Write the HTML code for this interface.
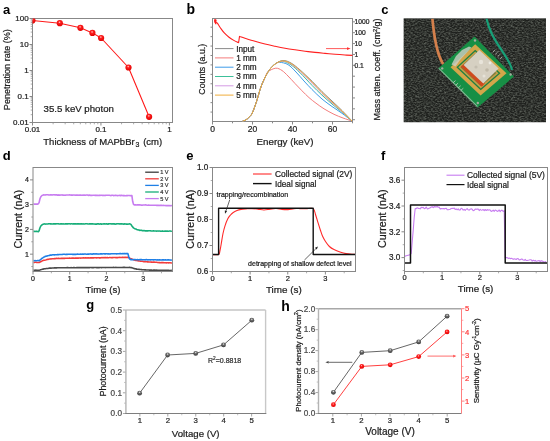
<!DOCTYPE html><html><head><meta charset="utf-8"><style>html,body{margin:0;padding:0;background:#fff;}svg{display:block;will-change:transform;}</style></head><body>
<svg width="550" height="441" viewBox="0 0 550 441" font-family='"Liberation Sans", sans-serif'>
<defs>
<radialGradient id="gr" cx="0.45" cy="0.35" r="0.65"><stop offset="0" stop-color="#ffd0d0"/><stop offset="0.3" stop-color="#ff2020"/><stop offset="1" stop-color="#e00000"/></radialGradient>
<radialGradient id="gk" cx="0.5" cy="0.32" r="0.68"><stop offset="0" stop-color="#e8e8e8"/><stop offset="0.35" stop-color="#6a6a6a"/><stop offset="1" stop-color="#3a3a3a"/></radialGradient>
<clipPath id="ca"><rect x="32.5" y="18.5" width="140" height="104"/></clipPath>
<filter id="noise" x="0" y="0" width="1" height="1" color-interpolation-filters="sRGB"><feTurbulence type="fractalNoise" baseFrequency="0.45 0.8" numOctaves="2" seed="7" result="n"/><feColorMatrix type="matrix" values="0 0 0 0 0.38  0 0 0 0 0.40  0 0 0 0 0.37  2.0 0 0 0 -0.72" in="n" result="m"/><feComposite in="m" in2="SourceGraphic" operator="in"/></filter>
</defs>
<rect width="550" height="441" fill="#fff"/>
<text x="3" y="13.6" font-size="13" text-anchor="start" font-weight="bold" fill="#000">a</text>
<line x1="29.5" y1="18.5" x2="32.5" y2="18.5" stroke="#888888" stroke-width="1"/>
<line x1="30.7" y1="36.67" x2="32.5" y2="36.67" stroke="#888888" stroke-width="0.7"/>
<line x1="30.7" y1="32.09" x2="32.5" y2="32.09" stroke="#888888" stroke-width="0.7"/>
<line x1="30.7" y1="28.85" x2="32.5" y2="28.85" stroke="#888888" stroke-width="0.7"/>
<line x1="30.7" y1="26.33" x2="32.5" y2="26.33" stroke="#888888" stroke-width="0.7"/>
<line x1="30.7" y1="24.27" x2="32.5" y2="24.27" stroke="#888888" stroke-width="0.7"/>
<line x1="30.7" y1="22.53" x2="32.5" y2="22.53" stroke="#888888" stroke-width="0.7"/>
<line x1="30.7" y1="21.02" x2="32.5" y2="21.02" stroke="#888888" stroke-width="0.7"/>
<line x1="30.7" y1="19.69" x2="32.5" y2="19.69" stroke="#888888" stroke-width="0.7"/>
<line x1="29.5" y1="44.5" x2="32.5" y2="44.5" stroke="#888888" stroke-width="1"/>
<line x1="30.7" y1="62.67" x2="32.5" y2="62.67" stroke="#888888" stroke-width="0.7"/>
<line x1="30.7" y1="58.09" x2="32.5" y2="58.09" stroke="#888888" stroke-width="0.7"/>
<line x1="30.7" y1="54.85" x2="32.5" y2="54.85" stroke="#888888" stroke-width="0.7"/>
<line x1="30.7" y1="52.33" x2="32.5" y2="52.33" stroke="#888888" stroke-width="0.7"/>
<line x1="30.7" y1="50.27" x2="32.5" y2="50.27" stroke="#888888" stroke-width="0.7"/>
<line x1="30.7" y1="48.53" x2="32.5" y2="48.53" stroke="#888888" stroke-width="0.7"/>
<line x1="30.7" y1="47.02" x2="32.5" y2="47.02" stroke="#888888" stroke-width="0.7"/>
<line x1="30.7" y1="45.69" x2="32.5" y2="45.69" stroke="#888888" stroke-width="0.7"/>
<line x1="29.5" y1="70.5" x2="32.5" y2="70.5" stroke="#888888" stroke-width="1"/>
<line x1="30.7" y1="88.67" x2="32.5" y2="88.67" stroke="#888888" stroke-width="0.7"/>
<line x1="30.7" y1="84.09" x2="32.5" y2="84.09" stroke="#888888" stroke-width="0.7"/>
<line x1="30.7" y1="80.85" x2="32.5" y2="80.85" stroke="#888888" stroke-width="0.7"/>
<line x1="30.7" y1="78.33" x2="32.5" y2="78.33" stroke="#888888" stroke-width="0.7"/>
<line x1="30.7" y1="76.27" x2="32.5" y2="76.27" stroke="#888888" stroke-width="0.7"/>
<line x1="30.7" y1="74.53" x2="32.5" y2="74.53" stroke="#888888" stroke-width="0.7"/>
<line x1="30.7" y1="73.02" x2="32.5" y2="73.02" stroke="#888888" stroke-width="0.7"/>
<line x1="30.7" y1="71.69" x2="32.5" y2="71.69" stroke="#888888" stroke-width="0.7"/>
<line x1="29.5" y1="96.5" x2="32.5" y2="96.5" stroke="#888888" stroke-width="1"/>
<line x1="30.7" y1="114.67" x2="32.5" y2="114.67" stroke="#888888" stroke-width="0.7"/>
<line x1="30.7" y1="110.09" x2="32.5" y2="110.09" stroke="#888888" stroke-width="0.7"/>
<line x1="30.7" y1="106.85" x2="32.5" y2="106.85" stroke="#888888" stroke-width="0.7"/>
<line x1="30.7" y1="104.33" x2="32.5" y2="104.33" stroke="#888888" stroke-width="0.7"/>
<line x1="30.7" y1="102.27" x2="32.5" y2="102.27" stroke="#888888" stroke-width="0.7"/>
<line x1="30.7" y1="100.53" x2="32.5" y2="100.53" stroke="#888888" stroke-width="0.7"/>
<line x1="30.7" y1="99.02" x2="32.5" y2="99.02" stroke="#888888" stroke-width="0.7"/>
<line x1="30.7" y1="97.69" x2="32.5" y2="97.69" stroke="#888888" stroke-width="0.7"/>
<line x1="29.5" y1="122.5" x2="32.5" y2="122.5" stroke="#888888" stroke-width="1"/>
<text x="28.6" y="21.3" font-size="8" text-anchor="end" font-weight="normal" fill="#1c1c1c" stroke="#1c1c1c" stroke-width="0.22">100</text>
<text x="28.6" y="47.3" font-size="8" text-anchor="end" font-weight="normal" fill="#1c1c1c" stroke="#1c1c1c" stroke-width="0.22">10</text>
<text x="28.6" y="73.3" font-size="8" text-anchor="end" font-weight="normal" fill="#1c1c1c" stroke="#1c1c1c" stroke-width="0.22">1</text>
<text x="28.6" y="99.3" font-size="8" text-anchor="end" font-weight="normal" fill="#1c1c1c" stroke="#1c1c1c" stroke-width="0.22">0.1</text>
<text x="28.6" y="125.3" font-size="8" text-anchor="end" font-weight="normal" fill="#1c1c1c" stroke="#1c1c1c" stroke-width="0.22">0.01</text>
<line x1="32.5" y1="122.5" x2="32.5" y2="125.5" stroke="#888888" stroke-width="1"/>
<line x1="53.11" y1="122.5" x2="53.11" y2="124.3" stroke="#888888" stroke-width="0.7"/>
<line x1="65.16" y1="122.5" x2="65.16" y2="124.3" stroke="#888888" stroke-width="0.7"/>
<line x1="73.71" y1="122.5" x2="73.71" y2="124.3" stroke="#888888" stroke-width="0.7"/>
<line x1="80.34" y1="122.5" x2="80.34" y2="124.3" stroke="#888888" stroke-width="0.7"/>
<line x1="85.76" y1="122.5" x2="85.76" y2="124.3" stroke="#888888" stroke-width="0.7"/>
<line x1="90.35" y1="122.5" x2="90.35" y2="124.3" stroke="#888888" stroke-width="0.7"/>
<line x1="94.32" y1="122.5" x2="94.32" y2="124.3" stroke="#888888" stroke-width="0.7"/>
<line x1="97.82" y1="122.5" x2="97.82" y2="124.3" stroke="#888888" stroke-width="0.7"/>
<line x1="100.95" y1="122.5" x2="100.95" y2="125.5" stroke="#888888" stroke-width="1"/>
<line x1="121.56" y1="122.5" x2="121.56" y2="124.3" stroke="#888888" stroke-width="0.7"/>
<line x1="133.61" y1="122.5" x2="133.61" y2="124.3" stroke="#888888" stroke-width="0.7"/>
<line x1="142.16" y1="122.5" x2="142.16" y2="124.3" stroke="#888888" stroke-width="0.7"/>
<line x1="148.79" y1="122.5" x2="148.79" y2="124.3" stroke="#888888" stroke-width="0.7"/>
<line x1="154.21" y1="122.5" x2="154.21" y2="124.3" stroke="#888888" stroke-width="0.7"/>
<line x1="158.8" y1="122.5" x2="158.8" y2="124.3" stroke="#888888" stroke-width="0.7"/>
<line x1="162.77" y1="122.5" x2="162.77" y2="124.3" stroke="#888888" stroke-width="0.7"/>
<line x1="166.27" y1="122.5" x2="166.27" y2="124.3" stroke="#888888" stroke-width="0.7"/>
<line x1="169.4" y1="122.5" x2="169.4" y2="125.5" stroke="#888888" stroke-width="1"/>
<text x="32.5" y="131.8" font-size="8" text-anchor="middle" font-weight="normal" fill="#1c1c1c" stroke="#1c1c1c" stroke-width="0.22">0.01</text>
<text x="100.95" y="131.8" font-size="8" text-anchor="middle" font-weight="normal" fill="#1c1c1c" stroke="#1c1c1c" stroke-width="0.22">0.1</text>
<text x="169.4" y="131.8" font-size="8" text-anchor="middle" font-weight="normal" fill="#1c1c1c" stroke="#1c1c1c" stroke-width="0.22">1</text>
<rect x="32.5" y="18.5" width="140" height="104" stroke="#888888" stroke-width="1" fill="none"/>
<text x="43.3" y="144.7" font-size="9.5" text-anchor="start" font-weight="normal" fill="#1c1c1c" stroke="#1c1c1c" stroke-width="0.22">Thickness of MAPbBr<tspan font-size="7" dy="2.0" dx="0.8">3</tspan><tspan dy="-2.0" dx="1.2"> (cm)</tspan></text>
<text x="9.7" y="69.65" font-size="9.06" text-anchor="middle" font-weight="normal" fill="#1c1c1c" stroke="#1c1c1c" stroke-width="0.22" transform="rotate(-90 9.7 69.65)">Penetration rate (%)</text>
<text x="43.6" y="111.6" font-size="9.6" text-anchor="start" font-weight="normal" fill="#1c1c1c" stroke="#1c1c1c" stroke-width="0.22" textLength="70.3" lengthAdjust="spacingAndGlyphs">35.5 keV photon</text>
<g clip-path="url(#ca)">
<polyline points="32.4,20.5 59.8,23.2 80.4,27.8 92.4,32.9 101.1,38 128.5,67.5 149.1,116.8" stroke="#ff1a1a" stroke-width="1.1" fill="none" stroke-linejoin="round"/>
<circle cx="32.4" cy="20.5" r="3.1" fill="url(#gr)"/>
<circle cx="59.8" cy="23.2" r="3.1" fill="url(#gr)"/>
<circle cx="80.4" cy="27.8" r="3.1" fill="url(#gr)"/>
<circle cx="92.4" cy="32.9" r="3.1" fill="url(#gr)"/>
<circle cx="101.1" cy="38" r="3.1" fill="url(#gr)"/>
<circle cx="128.5" cy="67.5" r="3.1" fill="url(#gr)"/>
<circle cx="149.1" cy="116.8" r="3.1" fill="url(#gr)"/>
</g>
<text x="186.6" y="13.6" font-size="14" text-anchor="start" font-weight="bold" fill="#000">b</text>
<line x1="210.5" y1="112.07" x2="212.5" y2="112.07" stroke="#888888" stroke-width="1"/>
<line x1="210.5" y1="102.64" x2="212.5" y2="102.64" stroke="#888888" stroke-width="1"/>
<line x1="210.5" y1="93.21" x2="212.5" y2="93.21" stroke="#888888" stroke-width="1"/>
<line x1="210.5" y1="83.78" x2="212.5" y2="83.78" stroke="#888888" stroke-width="1"/>
<line x1="210.5" y1="74.35" x2="212.5" y2="74.35" stroke="#888888" stroke-width="1"/>
<line x1="210.5" y1="64.92" x2="212.5" y2="64.92" stroke="#888888" stroke-width="1"/>
<line x1="210.5" y1="55.49" x2="212.5" y2="55.49" stroke="#888888" stroke-width="1"/>
<line x1="210.5" y1="46.06" x2="212.5" y2="46.06" stroke="#888888" stroke-width="1"/>
<line x1="210.5" y1="36.63" x2="212.5" y2="36.63" stroke="#888888" stroke-width="1"/>
<line x1="210.5" y1="27.2" x2="212.5" y2="27.2" stroke="#888888" stroke-width="1"/>
<line x1="352.5" y1="21.83" x2="355" y2="21.83" stroke="#888888" stroke-width="1"/>
<line x1="352.5" y1="32.7" x2="355" y2="32.7" stroke="#888888" stroke-width="1"/>
<line x1="352.5" y1="43.58" x2="355" y2="43.58" stroke="#888888" stroke-width="1"/>
<line x1="352.5" y1="54.45" x2="355" y2="54.45" stroke="#888888" stroke-width="1"/>
<line x1="352.5" y1="65.33" x2="355" y2="65.33" stroke="#888888" stroke-width="1"/>
<line x1="352.5" y1="76.2" x2="355" y2="76.2" stroke="#888888" stroke-width="1"/>
<line x1="352.5" y1="87.08" x2="355" y2="87.08" stroke="#888888" stroke-width="1"/>
<line x1="352.5" y1="97.95" x2="355" y2="97.95" stroke="#888888" stroke-width="1"/>
<line x1="352.5" y1="108.83" x2="355" y2="108.83" stroke="#888888" stroke-width="1"/>
<line x1="352.5" y1="119.7" x2="355" y2="119.7" stroke="#888888" stroke-width="1"/>
<text x="354.5" y="24.23" font-size="6.7" text-anchor="start" font-weight="normal" fill="#1c1c1c" stroke="#1c1c1c" stroke-width="0.22">1000</text>
<text x="354.5" y="35.1" font-size="6.7" text-anchor="start" font-weight="normal" fill="#1c1c1c" stroke="#1c1c1c" stroke-width="0.22">100</text>
<text x="354.5" y="45.98" font-size="6.7" text-anchor="start" font-weight="normal" fill="#1c1c1c" stroke="#1c1c1c" stroke-width="0.22">10</text>
<text x="354.5" y="56.85" font-size="6.7" text-anchor="start" font-weight="normal" fill="#1c1c1c" stroke="#1c1c1c" stroke-width="0.22">1</text>
<text x="354.5" y="67.73" font-size="6.7" text-anchor="start" font-weight="normal" fill="#1c1c1c" stroke="#1c1c1c" stroke-width="0.22">0.1</text>
<line x1="212.5" y1="121.5" x2="212.5" y2="124.5" stroke="#888888" stroke-width="1"/>
<line x1="232.5" y1="121.5" x2="232.5" y2="123.3" stroke="#888888" stroke-width="1"/>
<line x1="252.5" y1="121.5" x2="252.5" y2="124.5" stroke="#888888" stroke-width="1"/>
<line x1="272.5" y1="121.5" x2="272.5" y2="123.3" stroke="#888888" stroke-width="1"/>
<line x1="292.5" y1="121.5" x2="292.5" y2="124.5" stroke="#888888" stroke-width="1"/>
<line x1="312.5" y1="121.5" x2="312.5" y2="123.3" stroke="#888888" stroke-width="1"/>
<line x1="332.5" y1="121.5" x2="332.5" y2="124.5" stroke="#888888" stroke-width="1"/>
<line x1="352.5" y1="121.5" x2="352.5" y2="123.3" stroke="#888888" stroke-width="1"/>
<text x="212.5" y="132" font-size="8.5" text-anchor="middle" font-weight="normal" fill="#1c1c1c" stroke="#1c1c1c" stroke-width="0.22">0</text>
<text x="252.5" y="132" font-size="8.5" text-anchor="middle" font-weight="normal" fill="#1c1c1c" stroke="#1c1c1c" stroke-width="0.22">20</text>
<text x="292.5" y="132" font-size="8.5" text-anchor="middle" font-weight="normal" fill="#1c1c1c" stroke="#1c1c1c" stroke-width="0.22">40</text>
<text x="332.5" y="132" font-size="8.5" text-anchor="middle" font-weight="normal" fill="#1c1c1c" stroke="#1c1c1c" stroke-width="0.22">60</text>
<rect x="212.5" y="18.5" width="140" height="103" stroke="#888888" stroke-width="1" fill="none"/>
<text x="256.6" y="145.4" font-size="9.75" text-anchor="start" font-weight="normal" fill="#1c1c1c" stroke="#1c1c1c" stroke-width="0.22">Energy (keV)</text>
<text x="205.5" y="69.2" font-size="8.8" text-anchor="middle" font-weight="normal" fill="#1c1c1c" stroke="#1c1c1c" stroke-width="0.22" transform="rotate(-90 205.5 69.2)">Counts (a.u.)</text>
<text x="379.8" y="69.4" font-size="9" text-anchor="middle" font-weight="normal" fill="#1c1c1c" stroke="#1c1c1c" stroke-width="0.22" transform="rotate(-90 379.8 69.4)">Mass atten. coeff. (cm<tspan font-size="5.5" dy="-3.2">2</tspan><tspan dy="3.2">/g)</tspan></text>
<path d="M242.5,121.2 C243.08,120.97 244.92,120.47 246,119.8 C247.08,119.13 247.97,118.3 249,117.2 C250.03,116.1 250.95,115.8 252.2,113.2 C253.45,110.6 255.05,105.95 256.5,101.6 C257.95,97.25 259.43,91.22 260.9,87.1 C262.37,82.98 264.08,79.48 265.3,76.9 C266.52,74.32 266.45,73.05 268.2,71.6 C269.95,70.15 273.5,68.38 275.8,68.2 C278.1,68.02 279.97,69.2 282,70.5 C284.03,71.8 285.83,73.83 288,76 C290.17,78.17 292.67,81.03 295,83.5 C297.33,85.97 299.67,88.45 302,90.8 C304.33,93.15 306.67,95.53 309,97.6 C311.33,99.67 313.5,101.33 316,103.2 C318.5,105.07 321,106.95 324,108.8 C327,110.65 330.83,112.77 334,114.3 C337.17,115.83 340,116.88 343,118 C346,119.12 350.5,120.5 352,121" stroke="#f47c7c" stroke-width="1" fill="none"/>
<path d="M242.5,121.2 C243.08,120.97 244.92,120.47 246,119.8 C247.08,119.13 247.97,118.3 249,117.2 C250.03,116.1 250.95,115.8 252.2,113.2 C253.45,110.6 255.05,105.95 256.5,101.6 C257.95,97.25 259.43,91.22 260.9,87.1 C262.37,82.98 263.85,79.82 265.3,76.9 C266.75,73.98 267.92,71.78 269.6,69.6 C271.28,67.42 273.72,65.02 275.4,63.8 C277.08,62.58 277.6,62.17 279.7,62.3 C281.8,62.43 285.28,62.98 288,64.6 C290.72,66.22 293.33,69.27 296,72 C298.67,74.73 301.33,78.08 304,81 C306.67,83.92 309,86.5 312,89.5 C315,92.5 318.67,96.17 322,99 C325.33,101.83 328.67,104.12 332,106.5 C335.33,108.88 338.67,110.88 342,113.3 C345.33,115.72 350.33,119.72 352,121" stroke="#3d9be9" stroke-width="1" fill="none"/>
<path d="M242.5,121.2 C243.08,120.97 244.92,120.47 246,119.8 C247.08,119.13 247.97,118.3 249,117.2 C250.03,116.1 250.95,115.8 252.2,113.2 C253.45,110.6 255.05,105.95 256.5,101.6 C257.95,97.25 259.43,91.22 260.9,87.1 C262.37,82.98 263.85,79.82 265.3,76.9 C266.75,73.98 267.92,71.78 269.6,69.6 C271.28,67.42 273.25,65.18 275.4,63.8 C277.55,62.42 279.9,61.12 282.5,61.3 C285.1,61.48 288.08,63 291,64.9 C293.92,66.8 296.5,69.28 300,72.7 C303.5,76.12 308.33,81.65 312,85.4 C315.67,89.15 318.67,92.1 322,95.2 C325.33,98.3 328.67,101.17 332,104 C335.33,106.83 338.67,109.37 342,112.2 C345.33,115.03 350.33,119.53 352,121" stroke="#3cc09a" stroke-width="1" fill="none"/>
<path d="M242.5,121.2 C243.08,120.97 244.92,120.47 246,119.8 C247.08,119.13 247.97,118.3 249,117.2 C250.03,116.1 250.95,115.8 252.2,113.2 C253.45,110.6 255.05,105.95 256.5,101.6 C257.95,97.25 259.43,91.22 260.9,87.1 C262.37,82.98 263.85,79.82 265.3,76.9 C266.75,73.98 267.92,71.78 269.6,69.6 C271.28,67.42 273.17,65.22 275.4,63.8 C277.63,62.38 280.4,61.05 283,61.1 C285.6,61.15 288.17,62.37 291,64.1 C293.83,65.83 296.5,68.32 300,71.5 C303.5,74.68 308.33,79.53 312,83.2 C315.67,86.87 318.67,90.22 322,93.5 C325.33,96.78 328.67,99.88 332,102.9 C335.33,105.92 338.67,108.58 342,111.6 C345.33,114.62 350.33,119.43 352,121" stroke="#d49be4" stroke-width="1" fill="none"/>
<path d="M242.5,121.2 C243.08,120.97 244.92,120.47 246,119.8 C247.08,119.13 247.97,118.3 249,117.2 C250.03,116.1 250.95,115.8 252.2,113.2 C253.45,110.6 255.05,105.95 256.5,101.6 C257.95,97.25 259.43,91.22 260.9,87.1 C262.37,82.98 263.85,79.82 265.3,76.9 C266.75,73.98 267.92,71.78 269.6,69.6 C271.28,67.42 273.17,65.32 275.4,63.8 C277.63,62.28 280.4,60.63 283,60.5 C285.6,60.37 288.17,61.43 291,63 C293.83,64.57 296.5,66.87 300,69.9 C303.5,72.93 308.33,77.58 312,81.2 C315.67,84.82 318.67,88.3 322,91.6 C325.33,94.9 328.67,97.85 332,101 C335.33,104.15 338.67,107.17 342,110.5 C345.33,113.83 350.33,119.25 352,121" stroke="#8a8a8a" stroke-width="1" fill="none"/>
<path d="M242.5,121.2 C243.08,120.97 244.92,120.47 246,119.8 C247.08,119.13 247.97,118.3 249,117.2 C250.03,116.1 250.95,115.8 252.2,113.2 C253.45,110.6 255.05,105.95 256.5,101.6 C257.95,97.25 259.43,91.22 260.9,87.1 C262.37,82.98 263.85,79.82 265.3,76.9 C266.75,73.98 267.92,71.78 269.6,69.6 C271.28,67.42 273.17,65.25 275.4,63.8 C277.63,62.35 280.4,60.93 283,60.9 C285.6,60.87 288.17,61.98 291,63.6 C293.83,65.22 296.5,67.52 300,70.6 C303.5,73.68 308.33,78.43 312,82.1 C315.67,85.77 318.67,89.27 322,92.6 C325.33,95.93 328.67,99 332,102.1 C335.33,105.2 338.67,108.05 342,111.2 C345.33,114.35 350.33,119.37 352,121" stroke="#f0ae3c" stroke-width="1" fill="none"/>
<path d="M214.8,19.8 C214.93,20.27 215.22,22.08 215.6,22.6 C215.98,23.12 216.32,22.05 217.1,22.9 C217.88,23.75 219.1,26.03 220.3,27.7 C221.5,29.37 222.85,31.32 224.3,32.9 C225.75,34.48 227.42,35.95 229,37.2 C230.58,38.45 232.33,39.53 233.8,40.4 C235.27,41.27 237.13,42.07 237.8,42.4 L238.6,42.6 L239.5,36.4  C240.42,36.7 242.42,37.38 245,38.2 C247.58,39.02 251.67,40.33 255,41.3 C258.33,42.27 261.67,43.18 265,44 C268.33,44.82 271.67,45.5 275,46.2 C278.33,46.9 281.67,47.6 285,48.2 C288.33,48.8 291.67,49.3 295,49.8 C298.33,50.3 301.67,50.77 305,51.2 C308.33,51.63 311.67,52.03 315,52.4 C318.33,52.77 321.67,53.08 325,53.4 C328.33,53.72 331.67,54.03 335,54.3 C338.33,54.57 342.1,54.82 345,55 C347.9,55.18 351.17,55.33 352.4,55.4" stroke="#ff2020" stroke-width="1.1" fill="none"/>
<path d="M214.6,19.4 L216.2,19.8 L215.8,24.2 L214.6,22.0 Z" stroke="#ff2020" stroke-width="0.8" fill="#ff2020"/>
<line x1="326" y1="48.6" x2="347" y2="48.6" stroke="#ff3030" stroke-width="0.8"/>
<polygon points="350.6,48.6 347,50 347,47.2" fill="#ff3030"/>
<line x1="215" y1="48.6" x2="233.5" y2="48.6" stroke="#8a8a8a" stroke-width="1"/>
<text x="236.2" y="51.5" font-size="8.2" text-anchor="start" font-weight="normal" fill="#1c1c1c" stroke="#1c1c1c" stroke-width="0.22">Input</text>
<line x1="215" y1="57.9" x2="233.5" y2="57.9" stroke="#f47c7c" stroke-width="1"/>
<text x="236.2" y="60.8" font-size="8.2" text-anchor="start" font-weight="normal" fill="#1c1c1c" stroke="#1c1c1c" stroke-width="0.22">1 mm</text>
<line x1="215" y1="67.2" x2="233.5" y2="67.2" stroke="#3d9be9" stroke-width="1"/>
<text x="236.2" y="70.1" font-size="8.2" text-anchor="start" font-weight="normal" fill="#1c1c1c" stroke="#1c1c1c" stroke-width="0.22">2 mm</text>
<line x1="215" y1="76.5" x2="233.5" y2="76.5" stroke="#3cc09a" stroke-width="1"/>
<text x="236.2" y="79.4" font-size="8.2" text-anchor="start" font-weight="normal" fill="#1c1c1c" stroke="#1c1c1c" stroke-width="0.22">3 mm</text>
<line x1="215" y1="85.8" x2="233.5" y2="85.8" stroke="#d49be4" stroke-width="1"/>
<text x="236.2" y="88.7" font-size="8.2" text-anchor="start" font-weight="normal" fill="#1c1c1c" stroke="#1c1c1c" stroke-width="0.22">4 mm</text>
<line x1="215" y1="95.1" x2="233.5" y2="95.1" stroke="#f0ae3c" stroke-width="1"/>
<text x="236.2" y="98" font-size="8.2" text-anchor="start" font-weight="normal" fill="#1c1c1c" stroke="#1c1c1c" stroke-width="0.22">5 mm</text>
<text x="381.3" y="13.6" font-size="13" text-anchor="start" font-weight="bold" fill="#000">c</text>
<rect x="403.7" y="18.4" width="142.3" height="103.8" fill="#1f211e"/>
<rect x="403.7" y="18.4" width="142.3" height="103.8" fill="#000" filter="url(#noise)"/>
<polygon points="474.5,36.5 514,76.5 477.6,107.4 438.2,68.6" fill="#178f45"/>
<polygon points="438.2,68.6 477.6,107.4 477.2,105.6 439.4,68.2" fill="#c8d8c8" opacity="0.6"/>
<polygon points="475.2,44.2 506.5,73.3 480.6,95.5 450.5,67.2" fill="#d2a64a"/>
<polygon points="475.2,49.66 500.5,73.18 480.72,90.13 456.35,67.21" fill="#1f8040"/>
<polygon points="475.2,51.44 498.54,73.14 480.76,88.38 458.26,67.22" fill="#c4a04a"/>
<polygon points="475.2,53.49 496.29,73.09 480.81,86.36 460.45,67.22" fill="#7f7a3a"/>
<polygon points="460.8,66.6 464.6,63.8 484.8,83.6 481.8,86.8" fill="#cf4a1e"/>
<polygon points="479.3,50 498.6,68.4 483.3,83.6 463.6,65" fill="#d6d0c2"/>
<circle cx="481" cy="62" r="2.2" fill="#e8e4da"/><circle cx="487" cy="70" r="1.8" fill="#bfb8a8"/><circle cx="476" cy="67" r="1.6" fill="#c4beb0"/><circle cx="490" cy="63" r="1.4" fill="#eceae2"/><circle cx="484" cy="76" r="1.5" fill="#e6e2d8"/>
<polygon points="451.5,64.5 456,56 462,50 469,46.5 471.5,47.5 466,53.5 460,60 455.5,66.5" fill="#d0cec6" opacity="0.8"/>
<line x1="493" y1="52" x2="495.2" y2="50" stroke="#c0c2bc" stroke-width="0.8"/>
<line x1="495.3" y1="54.3" x2="497.5" y2="52.3" stroke="#c0c2bc" stroke-width="0.8"/>
<line x1="497.6" y1="56.6" x2="499.8" y2="54.6" stroke="#c0c2bc" stroke-width="0.8"/>
<line x1="499.9" y1="58.9" x2="502.1" y2="56.9" stroke="#c0c2bc" stroke-width="0.8"/>
<line x1="455.5" y1="80.6" x2="453.1" y2="82.7" stroke="#c8cac4" stroke-width="0.8"/>
<line x1="458.1" y1="83.15" x2="455.7" y2="85.25" stroke="#c8cac4" stroke-width="0.8"/>
<line x1="460.7" y1="85.7" x2="458.3" y2="87.8" stroke="#c8cac4" stroke-width="0.8"/>
<line x1="463.3" y1="88.25" x2="460.9" y2="90.35" stroke="#c8cac4" stroke-width="0.8"/>
<circle cx="475.0" cy="40.5" r="1.2" fill="#a8aaa0"/>
<circle cx="510.6" cy="74.5" r="1.2" fill="#a8aaa0"/>
<circle cx="477.8" cy="103.0" r="1.2" fill="#a8aaa0"/>
<circle cx="442.2" cy="68.4" r="1.2" fill="#a8aaa0"/>
<path d="M432.4,18.8 C433.5,30 435.5,44 438,52 C439.5,57 441,61 443.2,64" stroke="#d4804c" stroke-width="2.7" fill="none"/>
<path d="M486.5,18.8 C489,30 495,41 501.5,50 C506,57 509.5,62 511.2,67 L512,70" stroke="#18a078" stroke-width="2.2" fill="none"/>
<text x="2.7" y="159.7" font-size="13" text-anchor="start" font-weight="bold" fill="#000">d</text>
<line x1="30" y1="254.16" x2="33" y2="254.16" stroke="#888888" stroke-width="1"/>
<text x="28.8" y="256.66" font-size="7" text-anchor="end" font-weight="normal" fill="#1c1c1c" stroke="#1c1c1c" stroke-width="0.22">1</text>
<line x1="30" y1="229.4" x2="33" y2="229.4" stroke="#888888" stroke-width="1"/>
<text x="28.8" y="231.9" font-size="7" text-anchor="end" font-weight="normal" fill="#1c1c1c" stroke="#1c1c1c" stroke-width="0.22">2</text>
<line x1="30" y1="204.64" x2="33" y2="204.64" stroke="#888888" stroke-width="1"/>
<text x="28.8" y="207.14" font-size="7" text-anchor="end" font-weight="normal" fill="#1c1c1c" stroke="#1c1c1c" stroke-width="0.22">3</text>
<line x1="30" y1="179.88" x2="33" y2="179.88" stroke="#888888" stroke-width="1"/>
<text x="28.8" y="182.38" font-size="7" text-anchor="end" font-weight="normal" fill="#1c1c1c" stroke="#1c1c1c" stroke-width="0.22">4</text>
<line x1="31.2" y1="266.54" x2="33" y2="266.54" stroke="#888888" stroke-width="0.7"/>
<line x1="31.2" y1="241.78" x2="33" y2="241.78" stroke="#888888" stroke-width="0.7"/>
<line x1="31.2" y1="217.02" x2="33" y2="217.02" stroke="#888888" stroke-width="0.7"/>
<line x1="31.2" y1="192.26" x2="33" y2="192.26" stroke="#888888" stroke-width="0.7"/>
<line x1="33" y1="271.5" x2="33" y2="274.5" stroke="#888888" stroke-width="1"/>
<text x="33" y="280.8" font-size="7" text-anchor="middle" font-weight="normal" fill="#1c1c1c" stroke="#1c1c1c" stroke-width="0.22">0</text>
<line x1="69.71" y1="271.5" x2="69.71" y2="274.5" stroke="#888888" stroke-width="1"/>
<text x="69.71" y="280.8" font-size="7" text-anchor="middle" font-weight="normal" fill="#1c1c1c" stroke="#1c1c1c" stroke-width="0.22">1</text>
<line x1="106.42" y1="271.5" x2="106.42" y2="274.5" stroke="#888888" stroke-width="1"/>
<text x="106.42" y="280.8" font-size="7" text-anchor="middle" font-weight="normal" fill="#1c1c1c" stroke="#1c1c1c" stroke-width="0.22">2</text>
<line x1="143.13" y1="271.5" x2="143.13" y2="274.5" stroke="#888888" stroke-width="1"/>
<text x="143.13" y="280.8" font-size="7" text-anchor="middle" font-weight="normal" fill="#1c1c1c" stroke="#1c1c1c" stroke-width="0.22">3</text>
<line x1="51.36" y1="271.5" x2="51.36" y2="273.3" stroke="#888888" stroke-width="0.7"/>
<line x1="88.07" y1="271.5" x2="88.07" y2="273.3" stroke="#888888" stroke-width="0.7"/>
<line x1="124.78" y1="271.5" x2="124.78" y2="273.3" stroke="#888888" stroke-width="0.7"/>
<line x1="161.49" y1="271.5" x2="161.49" y2="273.3" stroke="#888888" stroke-width="0.7"/>
<text x="103" y="292.5" font-size="9.6" text-anchor="middle" font-weight="normal" fill="#1c1c1c" stroke="#1c1c1c" stroke-width="0.22">Time (s)</text>
<text x="22.4" y="219.15" font-size="10.67" text-anchor="middle" font-weight="normal" fill="#1c1c1c" stroke="#1c1c1c" stroke-width="0.22" transform="rotate(-90 22.4 219.15)">Current (nA)</text>
<polyline points="33.5,270.14 34.3,270.26 35.1,270.24 35.9,270.16 36.7,270.2 37.5,270.19 38.3,270.22 39.1,270.25 39.9,269.98 40.7,269.69 41.5,269.57 42.3,269.29 43.1,269.15 43.9,268.86 44.7,268.79 45.5,268.7 46.3,268.51 47.1,268.52 47.9,268.43 48.7,268.21 49.5,268.14 50.3,268.16 51.1,268.17 51.9,268.04 52.7,267.97 53.5,267.96 54.3,267.87 55.1,267.87 55.9,267.88 56.7,267.86 57.5,267.8 58.3,267.78 59.1,267.76 59.9,267.79 60.7,267.75 61.5,267.69 62.3,267.81 63.1,267.75 63.9,267.76 64.7,267.68 65.5,267.8 66.3,267.77 67.1,267.64 67.9,267.67 68.7,267.73 69.5,267.72 70.3,267.75 71.1,267.66 71.9,267.72 72.7,267.69 73.5,267.63 74.3,267.67 75.1,267.71 75.9,267.7 76.7,267.64 77.5,267.65 78.3,267.56 79.1,267.59 79.9,267.67 80.7,267.61 81.5,267.57 82.3,267.62 83.1,267.64 83.9,267.63 84.7,267.58 85.5,267.59 86.3,267.6 87.1,267.64 87.9,267.59 88.7,267.57 89.5,267.58 90.3,267.5 91.1,267.5 91.9,267.6 92.7,267.64 93.5,267.58 94.3,267.54 95.1,267.5 95.9,267.55 96.7,267.63 97.5,267.59 98.3,267.55 99.1,267.6 99.9,267.49 100.7,267.53 101.5,267.6 102.3,267.54 103.1,267.51 103.9,267.48 104.7,267.52 105.5,267.58 106.3,267.43 107.1,267.55 107.9,267.55 108.7,267.56 109.5,267.53 110.3,267.54 111.1,267.49 111.9,267.49 112.7,267.47 113.5,267.4 114.3,267.53 115.1,267.48 115.9,267.42 116.7,267.46 117.5,267.46 118.3,267.43 119.1,267.43 119.9,267.45 120.7,267.46 121.5,267.46 122.3,267.43 123.1,267.36 123.9,267.39 124.7,267.37 125.5,267.44 126.3,267.48 127.1,267.46 127.9,267.46 128.7,267.46 129.5,267.37 130.3,267.46 131.1,267.64 131.9,267.84 132.7,268.1 133.5,268.33 134.3,268.65 135.1,268.75 135.9,268.89 136.7,269.12 137.5,269.2 138.3,269.26 139.1,269.38 139.9,269.52 140.7,269.54 141.5,269.63 142.3,269.76 143.1,269.77 143.9,269.8 144.7,269.87 145.5,269.84 146.3,269.93 147.1,269.97 147.9,269.96 148.7,269.98 149.5,270.13 150.3,270.09 151.1,270.06 151.9,270.14 152.7,270.19 153.5,270.08 154.3,270.1 155.1,270.13 155.9,270.24 156.7,270.16 157.5,270.26 158.3,270.27 159.1,270.26 159.9,270.22 160.7,270.35 161.5,270.33 162.3,270.29 163.1,270.26 163.9,270.33 164.7,270.3 165.5,270.34 166.3,270.31 167.1,270.37 167.9,270.28 168.7,270.33 169.5,270.45 170.3,270.44 171.1,270.36 171.9,270.45" stroke="#4a4a4a" stroke-width="1.6" fill="none" stroke-linejoin="round"/>
<polyline points="33.5,262.51 34.3,262.51 35.1,262.29 35.9,262.3 36.7,262.48 37.5,262.46 38.3,262.44 39.1,262.35 39.9,262.17 40.7,261.72 41.5,261.31 42.3,260.85 43.1,260.6 43.9,260.32 44.7,260.16 45.5,260.01 46.3,259.81 47.1,259.54 47.9,259.37 48.7,259.2 49.5,259.02 50.3,258.92 51.1,258.93 51.9,258.82 52.7,258.76 53.5,258.82 54.3,258.67 55.1,258.63 55.9,258.5 56.7,258.41 57.5,258.44 58.3,258.36 59.1,258.42 59.9,258.51 60.7,258.4 61.5,258.26 62.3,258.41 63.1,258.36 63.9,258.33 64.7,258.35 65.5,258.3 66.3,258.29 67.1,258.17 67.9,258.3 68.7,258.28 69.5,258.08 70.3,258.2 71.1,258.18 71.9,258.11 72.7,258.11 73.5,258.09 74.3,258.18 75.1,258.07 75.9,258.14 76.7,258.01 77.5,258.13 78.3,258.12 79.1,258.01 79.9,258.02 80.7,258.1 81.5,258.04 82.3,257.97 83.1,257.9 83.9,257.91 84.7,257.99 85.5,257.85 86.3,258.02 87.1,257.86 87.9,258 88.7,257.85 89.5,257.99 90.3,257.92 91.1,257.86 91.9,257.86 92.7,257.88 93.5,257.85 94.3,257.78 95.1,257.74 95.9,257.8 96.7,257.9 97.5,257.81 98.3,257.67 99.1,257.84 99.9,257.81 100.7,257.84 101.5,257.66 102.3,257.78 103.1,257.61 103.9,257.74 104.7,257.64 105.5,257.62 106.3,257.76 107.1,257.57 107.9,257.66 108.7,257.73 109.5,257.57 110.3,257.55 111.1,257.7 111.9,257.58 112.7,257.65 113.5,257.47 114.3,257.54 115.1,257.48 115.9,257.6 116.7,257.44 117.5,257.64 118.3,257.41 119.1,257.57 119.9,257.39 120.7,257.44 121.5,257.56 122.3,257.39 123.1,257.39 123.9,257.5 124.7,257.42 125.5,257.33 126.3,257.54 127.1,257.33 127.9,257.29 128.7,257.59 129.5,258.08 130.3,258.49 131.1,258.69 131.9,259.06 132.7,259.27 133.5,259.63 134.3,259.94 135.1,260.15 135.9,260.38 136.7,260.53 137.5,260.72 138.3,260.83 139.1,260.91 139.9,260.97 140.7,261.19 141.5,261.22 142.3,261.27 143.1,261.44 143.9,261.63 144.7,261.53 145.5,261.71 146.3,261.73 147.1,261.83 147.9,261.8 148.7,262.05 149.5,261.94 150.3,262.07 151.1,262.08 151.9,262.03 152.7,262.2 153.5,262.14 154.3,262.16 155.1,262.2 155.9,262.27 156.7,262.29 157.5,262.46 158.3,262.46 159.1,262.61 159.9,262.63 160.7,262.68 161.5,262.53 162.3,262.61 163.1,262.6 163.9,262.71 164.7,262.75 165.5,262.82 166.3,262.83 167.1,262.75 167.9,262.82 168.7,262.88 169.5,262.78 170.3,262.82 171.1,262.93 171.9,262.89" stroke="#f23c3c" stroke-width="1.6" fill="none" stroke-linejoin="round"/>
<polyline points="33.5,260.62 34.3,260.71 35.1,260.66 35.9,260.73 36.7,260.74 37.5,260.57 38.3,260.55 39.1,260.8 39.9,260.16 40.7,259.32 41.5,258.83 42.3,258.06 43.1,257.65 43.9,257.09 44.7,256.76 45.5,256.29 46.3,256.15 47.1,255.98 47.9,255.67 48.7,255.55 49.5,255.38 50.3,255.07 51.1,255.16 51.9,255.01 52.7,254.84 53.5,254.68 54.3,254.87 55.1,254.69 55.9,254.72 56.7,254.72 57.5,254.63 58.3,254.66 59.1,254.47 59.9,254.57 60.7,254.44 61.5,254.56 62.3,254.52 63.1,254.27 63.9,254.26 64.7,254.27 65.5,254.48 66.3,254.31 67.1,254.35 67.9,254.24 68.7,254.29 69.5,254.24 70.3,254.22 71.1,254.28 71.9,254.27 72.7,254.36 73.5,254.28 74.3,254.34 75.1,254.31 75.9,254.34 76.7,254.24 77.5,254.07 78.3,254.27 79.1,254.3 79.9,254.27 80.7,254.16 81.5,254.19 82.3,254.03 83.1,254.21 83.9,254.12 84.7,254.03 85.5,253.95 86.3,254.18 87.1,254.21 87.9,253.93 88.7,254.14 89.5,254.01 90.3,253.92 91.1,253.96 91.9,254.09 92.7,254.11 93.5,253.86 94.3,254.02 95.1,253.84 95.9,254.03 96.7,253.91 97.5,254.06 98.3,254.08 99.1,253.93 99.9,254.07 100.7,253.85 101.5,253.77 102.3,253.92 103.1,253.74 103.9,253.78 104.7,253.84 105.5,253.89 106.3,253.74 107.1,253.7 107.9,253.94 108.7,253.76 109.5,253.95 110.3,253.92 111.1,253.76 111.9,253.77 112.7,253.78 113.5,253.81 114.3,253.79 115.1,253.77 115.9,253.78 116.7,253.86 117.5,253.72 118.3,253.69 119.1,253.77 119.9,253.62 120.7,253.63 121.5,253.82 122.3,253.67 123.1,253.67 123.9,253.5 124.7,253.62 125.5,253.66 126.3,253.48 127.1,253.65 127.9,253.64 128.7,256.39 129.5,258.84 130.3,259.39 131.1,259.62 131.9,259.57 132.7,259.7 133.5,259.72 134.3,259.51 135.1,259.53 135.9,259.72 136.7,259.82 137.5,259.61 138.3,259.68 139.1,259.73 139.9,259.65 140.7,259.67 141.5,259.66 142.3,259.69 143.1,259.76 143.9,259.68 144.7,259.71 145.5,259.84 146.3,259.62 147.1,259.79 147.9,259.85 148.7,259.73 149.5,259.71 150.3,259.89 151.1,259.73 151.9,259.72 152.7,259.8 153.5,259.89 154.3,259.72 155.1,259.79 155.9,259.8 156.7,259.96 157.5,259.85 158.3,259.98 159.1,259.78 159.9,259.84 160.7,259.94 161.5,260.02 162.3,259.9 163.1,259.84 163.9,259.81 164.7,259.94 165.5,259.85 166.3,260.04 167.1,260.06 167.9,259.87 168.7,259.9 169.5,260.07 170.3,260.03 171.1,260.08 171.9,259.95" stroke="#1f7fe6" stroke-width="1.6" fill="none" stroke-linejoin="round"/>
<polyline points="33.5,231.4 34.3,231.36 35.1,231.46 35.9,231.38 36.7,231.34 37.5,231.46 38.3,231.65 39.1,230.7 39.9,228.02 40.7,226.2 41.5,225.33 42.3,224.65 43.1,224.25 43.9,224.01 44.7,223.91 45.5,224.09 46.3,224.01 47.1,223.97 47.9,223.96 48.7,223.73 49.5,223.76 50.3,223.88 51.1,223.91 51.9,223.96 52.7,223.97 53.5,223.68 54.3,223.87 55.1,223.9 55.9,223.84 56.7,223.72 57.5,223.83 58.3,223.69 59.1,224 59.9,223.98 60.7,223.86 61.5,223.78 62.3,224 63.1,223.88 63.9,223.99 64.7,223.98 65.5,223.86 66.3,223.83 67.1,223.9 67.9,223.84 68.7,223.74 69.5,223.8 70.3,223.98 71.1,223.71 71.9,223.71 72.7,223.92 73.5,223.8 74.3,223.89 75.1,223.87 75.9,223.82 76.7,224.06 77.5,223.77 78.3,223.85 79.1,223.78 79.9,223.94 80.7,223.81 81.5,223.84 82.3,223.98 83.1,223.83 83.9,223.92 84.7,224.05 85.5,223.76 86.3,223.75 87.1,223.81 87.9,224 88.7,223.95 89.5,223.82 90.3,223.85 91.1,223.8 91.9,223.9 92.7,223.75 93.5,223.99 94.3,224.06 95.1,224.09 95.9,224.01 96.7,224.09 97.5,223.75 98.3,223.85 99.1,224.1 99.9,224.03 100.7,223.9 101.5,224.1 102.3,223.98 103.1,224.05 103.9,223.87 104.7,223.83 105.5,223.93 106.3,223.82 107.1,223.91 107.9,224.12 108.7,223.89 109.5,223.78 110.3,223.79 111.1,223.84 111.9,224.06 112.7,223.91 113.5,223.89 114.3,223.82 115.1,224.14 115.9,223.94 116.7,223.86 117.5,223.81 118.3,223.81 119.1,223.86 119.9,224.04 120.7,223.85 121.5,223.81 122.3,223.98 123.1,223.89 123.9,224.16 124.7,223.85 125.5,224 126.3,224.09 127.1,223.96 127.9,224.17 128.7,223.99 129.5,223.9 130.3,223.97 131.1,224.71 131.9,226.03 132.7,226.9 133.5,227.88 134.3,228.46 135.1,228.82 135.9,229.04 136.7,229.43 137.5,229.67 138.3,229.86 139.1,230.03 139.9,230.4 140.7,230.24 141.5,230.3 142.3,230.68 143.1,230.61 143.9,230.82 144.7,230.65 145.5,230.86 146.3,230.81 147.1,230.88 147.9,230.89 148.7,230.82 149.5,230.7 150.3,230.76 151.1,231.01 151.9,231.04 152.7,231.06 153.5,230.86 154.3,230.99 155.1,231.06 155.9,231.01 156.7,231.09 157.5,231 158.3,231.05 159.1,231.08 159.9,230.94 160.7,231.19 161.5,231.21 162.3,230.91 163.1,231.24 163.9,231.25 164.7,231.15 165.5,230.94 166.3,231.26 167.1,230.99 167.9,231.31 168.7,231.21 169.5,231.01 170.3,231.06 171.1,231.24 171.9,231.22" stroke="#16ad78" stroke-width="1.6" fill="none" stroke-linejoin="round"/>
<polyline points="33.5,204.04 34.3,204.09 35.1,204.11 35.9,204.16 36.7,204.09 37.5,204.15 38.3,203.83 39.1,202.58 39.9,198.96 40.7,196.92 41.5,196.02 42.3,195.23 43.1,195.1 43.9,194.89 44.7,194.94 45.5,194.92 46.3,194.71 47.1,194.78 47.9,194.8 48.7,195.04 49.5,194.99 50.3,194.78 51.1,195.01 51.9,194.78 52.7,194.96 53.5,194.79 54.3,194.75 55.1,195.07 55.9,194.84 56.7,194.85 57.5,195.13 58.3,195.1 59.1,194.9 59.9,195.15 60.7,195 61.5,195.06 62.3,194.89 63.1,195.17 63.9,195.08 64.7,195.19 65.5,195.17 66.3,194.96 67.1,194.99 67.9,194.93 68.7,194.93 69.5,194.91 70.3,195 71.1,195.11 71.9,194.9 72.7,195.15 73.5,195.04 74.3,195.04 75.1,195.23 75.9,195.11 76.7,195.06 77.5,195.12 78.3,195.21 79.1,194.99 79.9,195.32 80.7,194.99 81.5,195.26 82.3,195.3 83.1,195.01 83.9,195.29 84.7,195.14 85.5,195.23 86.3,195.03 87.1,195.05 87.9,195.11 88.7,195.39 89.5,195.12 90.3,195.33 91.1,195.4 91.9,195.41 92.7,195.21 93.5,195.22 94.3,195.28 95.1,195.38 95.9,195.15 96.7,195.39 97.5,195.41 98.3,195.44 99.1,195.15 99.9,195.48 100.7,195.18 101.5,195.28 102.3,195.38 103.1,195.5 103.9,195.3 104.7,195.52 105.5,195.39 106.3,195.31 107.1,195.32 107.9,195.28 108.7,195.25 109.5,195.28 110.3,195.48 111.1,195.6 111.9,195.3 112.7,195.27 113.5,195.61 114.3,195.46 115.1,195.42 115.9,195.37 116.7,195.5 117.5,195.59 118.3,195.46 119.1,195.46 119.9,195.33 120.7,195.65 121.5,195.34 122.3,195.51 123.1,195.64 123.9,195.4 124.7,195.62 125.5,195.7 126.3,195.6 127.1,195.66 127.9,195.42 128.7,195.55 129.5,195.45 130.3,195.71 131.1,195.52 131.9,195.58 132.7,201.6 133.5,204.27 134.3,204.87 135.1,204.81 135.9,204.86 136.7,204.97 137.5,204.9 138.3,204.85 139.1,204.9 139.9,204.83 140.7,204.93 141.5,205.16 142.3,205.17 143.1,205.06 143.9,205.03 144.7,204.99 145.5,204.92 146.3,205 147.1,205.2 147.9,205.25 148.7,205.08 149.5,205.25 150.3,205.26 151.1,205.25 151.9,205.26 152.7,205.31 153.5,205.18 154.3,205.32 155.1,205.18 155.9,205.27 156.7,205.39 157.5,205.38 158.3,205.25 159.1,205.5 159.9,205.41 160.7,205.4 161.5,205.21 162.3,205.42 163.1,205.33 163.9,205.5 164.7,205.44 165.5,205.58 166.3,205.54 167.1,205.61 167.9,205.46 168.7,205.59 169.5,205.64 170.3,205.68 171.1,205.53 171.9,205.72" stroke="#c77cf0" stroke-width="1.6" fill="none" stroke-linejoin="round"/>
<rect x="33" y="167.5" width="139.5" height="104" stroke="#888888" stroke-width="1" fill="none"/>
<line x1="145.2" y1="172.2" x2="158.8" y2="172.2" stroke="#3a3a3a" stroke-width="1.3"/>
<text x="160.2" y="174.1" font-size="5.6" text-anchor="start" font-weight="normal" fill="#3a3a3a" stroke="#3a3a3a" stroke-width="0.22">1 V</text>
<line x1="145.2" y1="178.8" x2="158.8" y2="178.8" stroke="#f03c3c" stroke-width="1.3"/>
<text x="160.2" y="180.7" font-size="5.6" text-anchor="start" font-weight="normal" fill="#3a3a3a" stroke="#3a3a3a" stroke-width="0.22">2 V</text>
<line x1="145.2" y1="185.4" x2="158.8" y2="185.4" stroke="#1f7fe6" stroke-width="1.3"/>
<text x="160.2" y="187.3" font-size="5.6" text-anchor="start" font-weight="normal" fill="#3a3a3a" stroke="#3a3a3a" stroke-width="0.22">3 V</text>
<line x1="145.2" y1="192" x2="158.8" y2="192" stroke="#16ad78" stroke-width="1.3"/>
<text x="160.2" y="193.9" font-size="5.6" text-anchor="start" font-weight="normal" fill="#3a3a3a" stroke="#3a3a3a" stroke-width="0.22">4 V</text>
<line x1="145.2" y1="198.6" x2="158.8" y2="198.6" stroke="#c77cf0" stroke-width="1.3"/>
<text x="160.2" y="200.5" font-size="5.6" text-anchor="start" font-weight="normal" fill="#3a3a3a" stroke="#3a3a3a" stroke-width="0.22">5 V</text>
<text x="186.3" y="160.1" font-size="13" text-anchor="start" font-weight="bold" fill="#000">e</text>
<line x1="209.5" y1="271.5" x2="212.5" y2="271.5" stroke="#888888" stroke-width="1"/>
<text x="208.4" y="274.3" font-size="8.2" text-anchor="end" font-weight="normal" fill="#1c1c1c" stroke="#1c1c1c" stroke-width="0.22">0.6</text>
<line x1="209.5" y1="245.5" x2="212.5" y2="245.5" stroke="#888888" stroke-width="1"/>
<text x="208.4" y="248.3" font-size="8.2" text-anchor="end" font-weight="normal" fill="#1c1c1c" stroke="#1c1c1c" stroke-width="0.22">0.7</text>
<line x1="209.5" y1="219.5" x2="212.5" y2="219.5" stroke="#888888" stroke-width="1"/>
<text x="208.4" y="222.3" font-size="8.2" text-anchor="end" font-weight="normal" fill="#1c1c1c" stroke="#1c1c1c" stroke-width="0.22">0.8</text>
<line x1="209.5" y1="193.5" x2="212.5" y2="193.5" stroke="#888888" stroke-width="1"/>
<text x="208.4" y="196.3" font-size="8.2" text-anchor="end" font-weight="normal" fill="#1c1c1c" stroke="#1c1c1c" stroke-width="0.22">0.9</text>
<line x1="209.5" y1="167.5" x2="212.5" y2="167.5" stroke="#888888" stroke-width="1"/>
<text x="208.4" y="170.3" font-size="8.2" text-anchor="end" font-weight="normal" fill="#1c1c1c" stroke="#1c1c1c" stroke-width="0.22">1.0</text>
<line x1="210.7" y1="258.5" x2="212.5" y2="258.5" stroke="#888888" stroke-width="0.7"/>
<line x1="210.7" y1="232.5" x2="212.5" y2="232.5" stroke="#888888" stroke-width="0.7"/>
<line x1="210.7" y1="206.5" x2="212.5" y2="206.5" stroke="#888888" stroke-width="0.7"/>
<line x1="210.7" y1="180.5" x2="212.5" y2="180.5" stroke="#888888" stroke-width="0.7"/>
<line x1="212.5" y1="271.5" x2="212.5" y2="274.5" stroke="#888888" stroke-width="1"/>
<text x="212.5" y="281" font-size="7.5" text-anchor="middle" font-weight="normal" fill="#1c1c1c" stroke="#1c1c1c" stroke-width="0.22">0</text>
<line x1="250.13" y1="271.5" x2="250.13" y2="274.5" stroke="#888888" stroke-width="1"/>
<text x="250.13" y="281" font-size="7.5" text-anchor="middle" font-weight="normal" fill="#1c1c1c" stroke="#1c1c1c" stroke-width="0.22">1</text>
<line x1="287.76" y1="271.5" x2="287.76" y2="274.5" stroke="#888888" stroke-width="1"/>
<text x="287.76" y="281" font-size="7.5" text-anchor="middle" font-weight="normal" fill="#1c1c1c" stroke="#1c1c1c" stroke-width="0.22">2</text>
<line x1="325.39" y1="271.5" x2="325.39" y2="274.5" stroke="#888888" stroke-width="1"/>
<text x="325.39" y="281" font-size="7.5" text-anchor="middle" font-weight="normal" fill="#1c1c1c" stroke="#1c1c1c" stroke-width="0.22">3</text>
<line x1="231.32" y1="271.5" x2="231.32" y2="273.3" stroke="#888888" stroke-width="0.7"/>
<line x1="268.95" y1="271.5" x2="268.95" y2="273.3" stroke="#888888" stroke-width="0.7"/>
<line x1="306.58" y1="271.5" x2="306.58" y2="273.3" stroke="#888888" stroke-width="0.7"/>
<line x1="344.21" y1="271.5" x2="344.21" y2="273.3" stroke="#888888" stroke-width="0.7"/>
<text x="283.8" y="293" font-size="9.9" text-anchor="middle" font-weight="normal" fill="#1c1c1c" stroke="#1c1c1c" stroke-width="0.22">Time (s)</text>
<text x="193.7" y="219.1" font-size="10.76" text-anchor="middle" font-weight="normal" fill="#1c1c1c" stroke="#1c1c1c" stroke-width="0.22" transform="rotate(-90 193.7 219.1)">Current (nA)</text>
<path d="M212.2,254.5 C213.27,254.5 217.3,255.17 218.6,254.5 C219.9,253.83 219.57,252.25 220,250.5 C220.43,248.75 220.7,246.83 221.2,244 C221.7,241.17 222.37,236.53 223,233.5 C223.63,230.47 224.2,228.25 225,225.8 C225.8,223.35 226.88,220.6 227.8,218.8 C228.72,217 229.65,216.02 230.5,215 C231.35,213.98 231.82,213.45 232.9,212.7 C233.98,211.95 235.65,211.05 237,210.5 C238.35,209.95 239.5,209.67 241,209.4 C242.5,209.13 244.17,209.03 246,208.9 C247.83,208.77 250,208.55 252,208.6 C254,208.65 256,208.97 258,209.2 C260,209.43 262,210 264,210 C266,210 268,209.45 270,209.2 C272,208.95 274,208.47 276,208.5 C278,208.53 280,209.22 282,209.4 C284,209.58 286,209.73 288,209.6 C290,209.47 292,208.77 294,208.6 C296,208.43 298,208.57 300,208.6 C302,208.63 303.8,208.8 306,208.8 C308.2,208.8 311.62,207.65 313.2,208.6 C314.78,209.55 314.7,212.15 315.5,214.5 C316.3,216.85 317.17,220.03 318,222.7 C318.83,225.37 319.73,228.23 320.5,230.5 C321.27,232.77 321.77,234.47 322.6,236.3 C323.43,238.13 324.37,239.8 325.5,241.5 C326.63,243.2 327.98,245.15 329.4,246.5 C330.82,247.85 332.12,248.65 334,249.6 C335.88,250.55 338.7,251.53 340.7,252.2 C342.7,252.87 344.12,253.25 346,253.6 C347.88,253.95 350.47,254.17 352,254.3 C353.53,254.43 354.67,254.38 355.2,254.4" stroke="#ff2a2a" stroke-width="1.1" fill="none"/>
<polyline points="212.2,254.5 218.6,254.5 218.6,208.2 313.2,208.2 313.2,254.5 355.2,254.5" stroke="#111" stroke-width="1.4" fill="none" stroke-linejoin="round"/>
<rect x="212.5" y="167.5" width="143" height="104" stroke="#888888" stroke-width="1" fill="none"/>
<line x1="253" y1="174" x2="271.6" y2="174" stroke="#ff2a2a" stroke-width="1.1"/>
<text x="275" y="177" font-size="8.4" text-anchor="start" font-weight="normal" fill="#1c1c1c" stroke="#1c1c1c" stroke-width="0.22" textLength="77.4" lengthAdjust="spacingAndGlyphs">Collected signal (2V)</text>
<line x1="253" y1="183.6" x2="271.6" y2="183.6" stroke="#111" stroke-width="1.4"/>
<text x="275" y="186.6" font-size="8.3" text-anchor="start" font-weight="normal" fill="#1c1c1c" stroke="#1c1c1c" stroke-width="0.22" textLength="41.4" lengthAdjust="spacingAndGlyphs">Ideal signal</text>
<text x="216.6" y="197" font-size="7" text-anchor="start" font-weight="normal" fill="#1c1c1c" stroke="#1c1c1c" stroke-width="0.22" textLength="71.5" lengthAdjust="spacingAndGlyphs">trapping/recombination</text>
<line x1="229.8" y1="199.6" x2="225.96" y2="210.96" stroke="#222" stroke-width="0.7"/>
<polygon points="225,213.8 224.82,210.57 227.1,211.34" fill="#222"/>
<text x="351.6" y="265.8" font-size="7" text-anchor="end" font-weight="normal" fill="#1c1c1c" stroke="#1c1c1c" stroke-width="0.22" textLength="103.5" lengthAdjust="spacingAndGlyphs">detrapping of shallow defect level</text>
<line x1="304.4" y1="260.1" x2="315.87" y2="248.71" stroke="#222" stroke-width="0.7"/>
<polygon points="318,246.6 316.72,249.57 315.03,247.86" fill="#222"/>
<text x="380.9" y="159.5" font-size="13" text-anchor="start" font-weight="bold" fill="#000">f</text>
<line x1="401.5" y1="257.6" x2="404.5" y2="257.6" stroke="#888888" stroke-width="1"/>
<text x="400.4" y="260.4" font-size="8.2" text-anchor="end" font-weight="normal" fill="#1c1c1c" stroke="#1c1c1c" stroke-width="0.22">3.0</text>
<line x1="401.5" y1="231.8" x2="404.5" y2="231.8" stroke="#888888" stroke-width="1"/>
<text x="400.4" y="234.6" font-size="8.2" text-anchor="end" font-weight="normal" fill="#1c1c1c" stroke="#1c1c1c" stroke-width="0.22">3.2</text>
<line x1="401.5" y1="206" x2="404.5" y2="206" stroke="#888888" stroke-width="1"/>
<text x="400.4" y="208.8" font-size="8.2" text-anchor="end" font-weight="normal" fill="#1c1c1c" stroke="#1c1c1c" stroke-width="0.22">3.4</text>
<line x1="401.5" y1="180.2" x2="404.5" y2="180.2" stroke="#888888" stroke-width="1"/>
<text x="400.4" y="183" font-size="8.2" text-anchor="end" font-weight="normal" fill="#1c1c1c" stroke="#1c1c1c" stroke-width="0.22">3.6</text>
<line x1="402.7" y1="270.5" x2="404.5" y2="270.5" stroke="#888888" stroke-width="0.7"/>
<line x1="402.7" y1="244.7" x2="404.5" y2="244.7" stroke="#888888" stroke-width="0.7"/>
<line x1="402.7" y1="218.9" x2="404.5" y2="218.9" stroke="#888888" stroke-width="0.7"/>
<line x1="402.7" y1="193.1" x2="404.5" y2="193.1" stroke="#888888" stroke-width="0.7"/>
<line x1="404.5" y1="271.5" x2="404.5" y2="274.5" stroke="#888888" stroke-width="1"/>
<text x="404.5" y="280.2" font-size="7.5" text-anchor="middle" font-weight="normal" fill="#1c1c1c" stroke="#1c1c1c" stroke-width="0.22">0</text>
<line x1="442.13" y1="271.5" x2="442.13" y2="274.5" stroke="#888888" stroke-width="1"/>
<text x="442.13" y="280.2" font-size="7.5" text-anchor="middle" font-weight="normal" fill="#1c1c1c" stroke="#1c1c1c" stroke-width="0.22">1</text>
<line x1="479.76" y1="271.5" x2="479.76" y2="274.5" stroke="#888888" stroke-width="1"/>
<text x="479.76" y="280.2" font-size="7.5" text-anchor="middle" font-weight="normal" fill="#1c1c1c" stroke="#1c1c1c" stroke-width="0.22">2</text>
<line x1="517.39" y1="271.5" x2="517.39" y2="274.5" stroke="#888888" stroke-width="1"/>
<text x="517.39" y="280.2" font-size="7.5" text-anchor="middle" font-weight="normal" fill="#1c1c1c" stroke="#1c1c1c" stroke-width="0.22">3</text>
<line x1="423.32" y1="271.5" x2="423.32" y2="273.3" stroke="#888888" stroke-width="0.7"/>
<line x1="460.95" y1="271.5" x2="460.95" y2="273.3" stroke="#888888" stroke-width="0.7"/>
<line x1="498.58" y1="271.5" x2="498.58" y2="273.3" stroke="#888888" stroke-width="0.7"/>
<line x1="536.21" y1="271.5" x2="536.21" y2="273.3" stroke="#888888" stroke-width="0.7"/>
<text x="475.6" y="292" font-size="9.6" text-anchor="middle" font-weight="normal" fill="#1c1c1c" stroke="#1c1c1c" stroke-width="0.22" textLength="35.6" lengthAdjust="spacingAndGlyphs">Time (s)</text>
<text x="385.8" y="218.65" font-size="10.67" text-anchor="middle" font-weight="normal" fill="#1c1c1c" stroke="#1c1c1c" stroke-width="0.22" transform="rotate(-90 385.8 218.65)">Current (nA)</text>
<polyline points="404.2,256.44 405.2,256.14 406.2,255.84 407.2,255.54 408.2,255.24 409.2,254.94 410.2,254.64 411.2,253.5 412.2,241.72 413.2,230.45 414.2,217.53 415.2,208.51 416.2,208.61 417.2,207.76 418.2,208.36 419.2,208.55 420.2,208.83 421.2,207.38 422.2,207.75 423.2,207.27 424.2,208.66 425.2,208.38 426.2,207.02 427.2,208.85 428.2,208.77 429.2,208.1 430.2,207.97 431.2,207 432.2,206.67 433.2,207.65 434.2,206.66 435.2,206.87 436.2,206.92 437.2,206.45 438.2,207.27 439.2,207.17 440.2,209.09 441.2,208.49 442.2,208.77 443.2,208.53 444.2,208.89 445.2,208.52 446.2,208.2 447.2,209.68 448.2,209.72 449.2,209.45 450.2,209.22 451.2,208.48 452.2,208.35 453.2,208.51 454.2,208.11 455.2,209.54 456.2,208.85 457.2,209.78 458.2,208.9 459.2,210.08 460.2,209.9 461.2,208.25 462.2,208.71 463.2,210.15 464.2,209.31 465.2,210.37 466.2,209.24 467.2,208.63 468.2,209.79 469.2,210.13 470.2,209.15 471.2,208.82 472.2,209.35 473.2,210.66 474.2,210.28 475.2,209.04 476.2,209.34 477.2,209.09 478.2,209.05 479.2,210.56 480.2,209.36 481.2,210.17 482.2,209.98 483.2,209.51 484.2,210.63 485.2,209.47 486.2,210.54 487.2,209.52 488.2,210.17 489.2,209.79 490.2,209.95 491.2,211.39 492.2,211.09 493.2,210.14 494.2,211.34 495.2,210.03 496.2,210.44 497.2,211.4 498.2,211.01 499.2,209.97 500.2,211.79 501.2,210.27 502.2,210.4 503.2,211.47 504.2,210.63 505.2,257.73 506.2,257.51 507.2,257.62 508.2,258.4 509.2,258.02 510.2,258.61 511.2,258.38 512.2,258.58 513.2,259.38 514.2,258.81 515.2,259.02 516.2,259.52 517.2,258.65 518.2,258.7 519.2,259.85 520.2,259.81 521.2,259.11 522.2,259.11 523.2,259.97 524.2,260.34 525.2,259.39 526.2,260.54 527.2,260.53 528.2,260.23 529.2,260.07 530.2,259.71 531.2,259.71 532.2,261.1 533.2,260.17 534.2,260.91 535.2,260.38 536.2,261.26 537.2,261.03 538.2,260.7 539.2,260.62 540.2,261.48 541.2,260.65 542.2,260.97 543.2,261.52 544.2,262.02 545.2,261.78 546.2,261.4" stroke="#c77cf0" stroke-width="1.1" fill="none" stroke-linejoin="round"/>
<polyline points="404.5,263 410.5,263 410.5,205 505.2,205 505.2,263 547.5,263" stroke="#111" stroke-width="1.5" fill="none" stroke-linejoin="round"/>
<rect x="404.5" y="167.5" width="143" height="104" stroke="#888888" stroke-width="1" fill="none"/>
<line x1="446.5" y1="175.2" x2="464.5" y2="175.2" stroke="#c77cf0" stroke-width="1.1"/>
<text x="466.9" y="178.2" font-size="8.4" text-anchor="start" font-weight="normal" fill="#1c1c1c" stroke="#1c1c1c" stroke-width="0.22" textLength="78" lengthAdjust="spacingAndGlyphs">Collected signal (5V)</text>
<line x1="446.5" y1="184.6" x2="464.5" y2="184.6" stroke="#111" stroke-width="1.2"/>
<text x="466.9" y="187.8" font-size="8.3" text-anchor="start" font-weight="normal" fill="#1c1c1c" stroke="#1c1c1c" stroke-width="0.22" textLength="42" lengthAdjust="spacingAndGlyphs">Ideal signal</text>
<text x="86.2" y="309.4" font-size="13" text-anchor="start" font-weight="bold" fill="#000">g</text>
<line x1="122.9" y1="413.5" x2="125.9" y2="413.5" stroke="#a6a6a6" stroke-width="1"/>
<text x="122" y="416.3" font-size="8.2" text-anchor="end" font-weight="normal" fill="#4a4a4a" stroke="#4a4a4a" stroke-width="0.22">0.0</text>
<line x1="122.9" y1="392.8" x2="125.9" y2="392.8" stroke="#a6a6a6" stroke-width="1"/>
<text x="122" y="395.6" font-size="8.2" text-anchor="end" font-weight="normal" fill="#4a4a4a" stroke="#4a4a4a" stroke-width="0.22">0.1</text>
<line x1="122.9" y1="372.1" x2="125.9" y2="372.1" stroke="#a6a6a6" stroke-width="1"/>
<text x="122" y="374.9" font-size="8.2" text-anchor="end" font-weight="normal" fill="#4a4a4a" stroke="#4a4a4a" stroke-width="0.22">0.2</text>
<line x1="122.9" y1="351.4" x2="125.9" y2="351.4" stroke="#a6a6a6" stroke-width="1"/>
<text x="122" y="354.2" font-size="8.2" text-anchor="end" font-weight="normal" fill="#4a4a4a" stroke="#4a4a4a" stroke-width="0.22">0.3</text>
<line x1="122.9" y1="330.7" x2="125.9" y2="330.7" stroke="#a6a6a6" stroke-width="1"/>
<text x="122" y="333.5" font-size="8.2" text-anchor="end" font-weight="normal" fill="#4a4a4a" stroke="#4a4a4a" stroke-width="0.22">0.4</text>
<line x1="122.9" y1="310" x2="125.9" y2="310" stroke="#a6a6a6" stroke-width="1"/>
<text x="122" y="312.8" font-size="8.2" text-anchor="end" font-weight="normal" fill="#4a4a4a" stroke="#4a4a4a" stroke-width="0.22">0.5</text>
<line x1="124.1" y1="403.15" x2="125.9" y2="403.15" stroke="#a6a6a6" stroke-width="0.7"/>
<line x1="124.1" y1="382.45" x2="125.9" y2="382.45" stroke="#a6a6a6" stroke-width="0.7"/>
<line x1="124.1" y1="361.75" x2="125.9" y2="361.75" stroke="#a6a6a6" stroke-width="0.7"/>
<line x1="124.1" y1="341.05" x2="125.9" y2="341.05" stroke="#a6a6a6" stroke-width="0.7"/>
<line x1="124.1" y1="320.35" x2="125.9" y2="320.35" stroke="#a6a6a6" stroke-width="0.7"/>
<line x1="139.87" y1="413.5" x2="139.87" y2="416.5" stroke="#a6a6a6" stroke-width="1"/>
<text x="139.87" y="423" font-size="7.8" text-anchor="middle" font-weight="normal" fill="#2a2a2a" stroke="#2a2a2a" stroke-width="0.22">1</text>
<line x1="167.81" y1="413.5" x2="167.81" y2="416.5" stroke="#a6a6a6" stroke-width="1"/>
<text x="167.81" y="423" font-size="7.8" text-anchor="middle" font-weight="normal" fill="#2a2a2a" stroke="#2a2a2a" stroke-width="0.22">2</text>
<line x1="195.75" y1="413.5" x2="195.75" y2="416.5" stroke="#a6a6a6" stroke-width="1"/>
<text x="195.75" y="423" font-size="7.8" text-anchor="middle" font-weight="normal" fill="#2a2a2a" stroke="#2a2a2a" stroke-width="0.22">3</text>
<line x1="223.69" y1="413.5" x2="223.69" y2="416.5" stroke="#a6a6a6" stroke-width="1"/>
<text x="223.69" y="423" font-size="7.8" text-anchor="middle" font-weight="normal" fill="#2a2a2a" stroke="#2a2a2a" stroke-width="0.22">4</text>
<line x1="251.63" y1="413.5" x2="251.63" y2="416.5" stroke="#a6a6a6" stroke-width="1"/>
<text x="251.63" y="423" font-size="7.8" text-anchor="middle" font-weight="normal" fill="#2a2a2a" stroke="#2a2a2a" stroke-width="0.22">5</text>
<line x1="153.84" y1="413.5" x2="153.84" y2="415.3" stroke="#a6a6a6" stroke-width="0.7"/>
<line x1="181.78" y1="413.5" x2="181.78" y2="415.3" stroke="#a6a6a6" stroke-width="0.7"/>
<line x1="209.72" y1="413.5" x2="209.72" y2="415.3" stroke="#a6a6a6" stroke-width="0.7"/>
<line x1="237.66" y1="413.5" x2="237.66" y2="415.3" stroke="#a6a6a6" stroke-width="0.7"/>
<line x1="125.9" y1="310" x2="265.6" y2="310" stroke="#c4c4c4" stroke-width="1.4"/>
<line x1="265.6" y1="310" x2="265.6" y2="413.5" stroke="#c8c8c8" stroke-width="1.4"/>
<line x1="125.9" y1="310" x2="125.9" y2="413.5" stroke="#b4b4b4" stroke-width="1.4"/>
<line x1="125.2" y1="413.5" x2="266.3" y2="413.5" stroke="#7e7e7e" stroke-width="1.2"/>
<polyline points="139.6,393.2 167.6,355 195.7,353.4 223.5,344.9 251.8,320.2" stroke="#555" stroke-width="0.9" fill="none" stroke-linejoin="round"/>
<circle cx="139.6" cy="393.2" r="2.4" fill="url(#gk)"/>
<circle cx="167.6" cy="355" r="2.4" fill="url(#gk)"/>
<circle cx="195.7" cy="353.4" r="2.4" fill="url(#gk)"/>
<circle cx="223.5" cy="344.9" r="2.4" fill="url(#gk)"/>
<circle cx="251.8" cy="320.2" r="2.4" fill="url(#gk)"/>
<text x="208" y="363.2" font-size="7" text-anchor="start" font-weight="normal" fill="#333" stroke="#333" stroke-width="0.22">R<tspan font-size="4.8" dy="-3">2</tspan><tspan dy="3">=0.8818</tspan></text>
<text x="195.7" y="436.7" font-size="9.6" text-anchor="middle" font-weight="normal" fill="#1c1c1c" stroke="#1c1c1c" stroke-width="0.22" textLength="47.7" lengthAdjust="spacingAndGlyphs">Voltage (V)</text>
<text x="106" y="361.4" font-size="8.92" text-anchor="middle" font-weight="normal" fill="#1c1c1c" stroke="#1c1c1c" stroke-width="0.22" transform="rotate(-90 106 361.4)">Photocurrent (nA)</text>
<text x="281.2" y="310.7" font-size="14" text-anchor="start" font-weight="bold" fill="#000">h</text>
<line x1="315.5" y1="413.5" x2="318.5" y2="413.5" stroke="#a6a6a6" stroke-width="1"/>
<text x="315.2" y="416.3" font-size="8.2" text-anchor="end" font-weight="normal" fill="#4a4a4a" stroke="#4a4a4a" stroke-width="0.22">0.0</text>
<line x1="315.5" y1="392.54" x2="318.5" y2="392.54" stroke="#a6a6a6" stroke-width="1"/>
<text x="315.2" y="395.34" font-size="8.2" text-anchor="end" font-weight="normal" fill="#4a4a4a" stroke="#4a4a4a" stroke-width="0.22">0.4</text>
<line x1="315.5" y1="371.58" x2="318.5" y2="371.58" stroke="#a6a6a6" stroke-width="1"/>
<text x="315.2" y="374.38" font-size="8.2" text-anchor="end" font-weight="normal" fill="#4a4a4a" stroke="#4a4a4a" stroke-width="0.22">0.8</text>
<line x1="315.5" y1="350.62" x2="318.5" y2="350.62" stroke="#a6a6a6" stroke-width="1"/>
<text x="315.2" y="353.42" font-size="8.2" text-anchor="end" font-weight="normal" fill="#4a4a4a" stroke="#4a4a4a" stroke-width="0.22">1.2</text>
<line x1="315.5" y1="329.66" x2="318.5" y2="329.66" stroke="#a6a6a6" stroke-width="1"/>
<text x="315.2" y="332.46" font-size="8.2" text-anchor="end" font-weight="normal" fill="#4a4a4a" stroke="#4a4a4a" stroke-width="0.22">1.6</text>
<line x1="315.5" y1="308.7" x2="318.5" y2="308.7" stroke="#a6a6a6" stroke-width="1"/>
<text x="315.2" y="311.5" font-size="8.2" text-anchor="end" font-weight="normal" fill="#4a4a4a" stroke="#4a4a4a" stroke-width="0.22">2.0</text>
<line x1="316.7" y1="403.02" x2="318.5" y2="403.02" stroke="#a6a6a6" stroke-width="0.7"/>
<line x1="316.7" y1="382.06" x2="318.5" y2="382.06" stroke="#a6a6a6" stroke-width="0.7"/>
<line x1="316.7" y1="361.1" x2="318.5" y2="361.1" stroke="#a6a6a6" stroke-width="0.7"/>
<line x1="316.7" y1="340.14" x2="318.5" y2="340.14" stroke="#a6a6a6" stroke-width="0.7"/>
<line x1="316.7" y1="319.18" x2="318.5" y2="319.18" stroke="#a6a6a6" stroke-width="0.7"/>
<line x1="332.8" y1="413.5" x2="332.8" y2="416.5" stroke="#a6a6a6" stroke-width="1"/>
<text x="332.8" y="423" font-size="7.8" text-anchor="middle" font-weight="normal" fill="#2a2a2a" stroke="#2a2a2a" stroke-width="0.22">1</text>
<line x1="361.4" y1="413.5" x2="361.4" y2="416.5" stroke="#a6a6a6" stroke-width="1"/>
<text x="361.4" y="423" font-size="7.8" text-anchor="middle" font-weight="normal" fill="#2a2a2a" stroke="#2a2a2a" stroke-width="0.22">2</text>
<line x1="390" y1="413.5" x2="390" y2="416.5" stroke="#a6a6a6" stroke-width="1"/>
<text x="390" y="423" font-size="7.8" text-anchor="middle" font-weight="normal" fill="#2a2a2a" stroke="#2a2a2a" stroke-width="0.22">3</text>
<line x1="418.6" y1="413.5" x2="418.6" y2="416.5" stroke="#a6a6a6" stroke-width="1"/>
<text x="418.6" y="423" font-size="7.8" text-anchor="middle" font-weight="normal" fill="#2a2a2a" stroke="#2a2a2a" stroke-width="0.22">4</text>
<line x1="447.2" y1="413.5" x2="447.2" y2="416.5" stroke="#a6a6a6" stroke-width="1"/>
<text x="447.2" y="423" font-size="7.8" text-anchor="middle" font-weight="normal" fill="#2a2a2a" stroke="#2a2a2a" stroke-width="0.22">5</text>
<line x1="347.1" y1="413.5" x2="347.1" y2="415.3" stroke="#a6a6a6" stroke-width="0.7"/>
<line x1="375.7" y1="413.5" x2="375.7" y2="415.3" stroke="#a6a6a6" stroke-width="0.7"/>
<line x1="404.3" y1="413.5" x2="404.3" y2="415.3" stroke="#a6a6a6" stroke-width="0.7"/>
<line x1="432.9" y1="413.5" x2="432.9" y2="415.3" stroke="#a6a6a6" stroke-width="0.7"/>
<line x1="318.5" y1="308.7" x2="461.5" y2="308.7" stroke="#a8a8a8" stroke-width="1.5"/>
<line x1="318.5" y1="308.7" x2="318.5" y2="413.5" stroke="#b4b4b4" stroke-width="1.4"/>
<line x1="317.8" y1="413.5" x2="461.5" y2="413.5" stroke="#7e7e7e" stroke-width="1.2"/>
<line x1="461.5" y1="308.7" x2="461.5" y2="413.5" stroke="#ff8080" stroke-width="1"/>
<line x1="461.5" y1="401.1" x2="464.5" y2="401.1" stroke="#ff8080" stroke-width="1"/>
<text x="465" y="403.8" font-size="7.6" text-anchor="start" font-weight="normal" fill="#ff3b3b" stroke="#ff3b3b" stroke-width="0.22">1</text>
<line x1="461.5" y1="378" x2="464.5" y2="378" stroke="#ff8080" stroke-width="1"/>
<text x="465" y="380.7" font-size="7.6" text-anchor="start" font-weight="normal" fill="#ff3b3b" stroke="#ff3b3b" stroke-width="0.22">2</text>
<line x1="461.5" y1="354.9" x2="464.5" y2="354.9" stroke="#ff8080" stroke-width="1"/>
<text x="465" y="357.6" font-size="7.6" text-anchor="start" font-weight="normal" fill="#ff3b3b" stroke="#ff3b3b" stroke-width="0.22">3</text>
<line x1="461.5" y1="331.8" x2="464.5" y2="331.8" stroke="#ff8080" stroke-width="1"/>
<text x="465" y="334.5" font-size="7.6" text-anchor="start" font-weight="normal" fill="#ff3b3b" stroke="#ff3b3b" stroke-width="0.22">4</text>
<line x1="461.5" y1="308.7" x2="464.5" y2="308.7" stroke="#ff8080" stroke-width="1"/>
<text x="465" y="311.4" font-size="7.6" text-anchor="start" font-weight="normal" fill="#ff3b3b" stroke="#ff3b3b" stroke-width="0.22">5</text>
<line x1="461.5" y1="389.55" x2="463.3" y2="389.55" stroke="#ff8080" stroke-width="0.7"/>
<line x1="461.5" y1="366.45" x2="463.3" y2="366.45" stroke="#ff8080" stroke-width="0.7"/>
<line x1="461.5" y1="343.35" x2="463.3" y2="343.35" stroke="#ff8080" stroke-width="0.7"/>
<line x1="461.5" y1="320.25" x2="463.3" y2="320.25" stroke="#ff8080" stroke-width="0.7"/>
<polyline points="333.4,392.3 361.8,352.4 390.2,350.7 418.7,341.9 447.1,316.2" stroke="#555" stroke-width="0.9" fill="none" stroke-linejoin="round"/>
<polyline points="333.4,404.7 361.8,366.4 390.2,364.8 418.7,356.6 447.1,331.9" stroke="#ff2a2a" stroke-width="0.9" fill="none" stroke-linejoin="round"/>
<circle cx="333.4" cy="392.3" r="2.4" fill="url(#gk)"/>
<circle cx="361.8" cy="352.4" r="2.4" fill="url(#gk)"/>
<circle cx="390.2" cy="350.7" r="2.4" fill="url(#gk)"/>
<circle cx="418.7" cy="341.9" r="2.4" fill="url(#gk)"/>
<circle cx="447.1" cy="316.2" r="2.4" fill="url(#gk)"/>
<circle cx="333.4" cy="404.7" r="2.4" fill="url(#gr)"/>
<circle cx="361.8" cy="366.4" r="2.4" fill="url(#gr)"/>
<circle cx="390.2" cy="364.8" r="2.4" fill="url(#gr)"/>
<circle cx="418.7" cy="356.6" r="2.4" fill="url(#gr)"/>
<circle cx="447.1" cy="331.9" r="2.4" fill="url(#gr)"/>
<line x1="352.3" y1="362.3" x2="328.6" y2="362.3" stroke="#444" stroke-width="0.8"/>
<polygon points="325.4,362.3 328.6,361 328.6,363.6" fill="#444"/>
<line x1="427.5" y1="356.1" x2="453.2" y2="356.1" stroke="#ff4a4a" stroke-width="0.8"/>
<polygon points="456.4,356.1 453.2,357.4 453.2,354.8" fill="#ff4a4a"/>
<text x="390" y="435.1" font-size="10" text-anchor="middle" font-weight="normal" fill="#1c1c1c" stroke="#1c1c1c" stroke-width="0.22" textLength="49.6" lengthAdjust="spacingAndGlyphs">Voltage (V)</text>
<text x="301" y="360.6" font-size="7.68" text-anchor="middle" font-weight="normal" fill="#1c1c1c" stroke="#1c1c1c" stroke-width="0.22" transform="rotate(-90 301 360.6)">Photocurrent density (nA/cm<tspan font-size="5" dy="-3">2</tspan><tspan dy="3">)</tspan></text>
<text x="479.3" y="360.85" font-size="7.95" text-anchor="middle" font-weight="normal" fill="#1c1c1c" stroke="#1c1c1c" stroke-width="0.22" transform="rotate(-90 479.3 360.85)">Sensitivity (μC Gy<tspan font-size="4.8" dy="-3">-1</tspan><tspan dy="3">cm</tspan><tspan font-size="4.8" dy="-3">-2</tspan><tspan dy="3">)</tspan></text>
</svg></body></html>
